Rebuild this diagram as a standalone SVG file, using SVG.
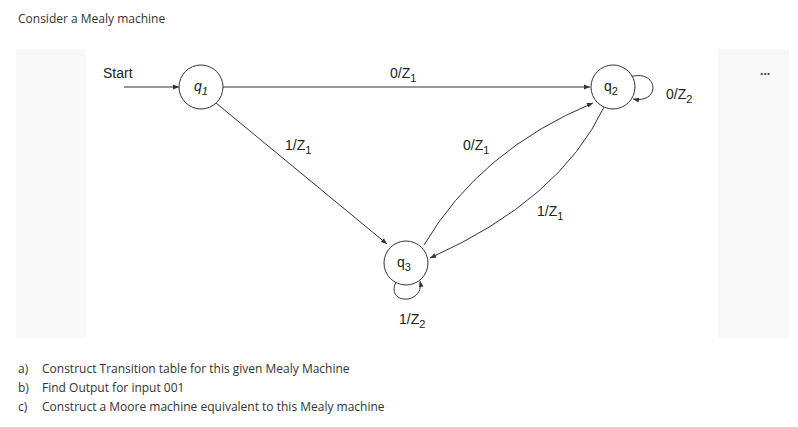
<svg xmlns="http://www.w3.org/2000/svg" width="798" height="427" viewBox="0 0 798 427">
<style>
.t{font-family:"Open Sans",sans-serif;font-size:12px;fill:#333}
.l{font-family:"Liberation Sans",Arial,sans-serif;font-size:14px;fill:#222}
.s{font-size:11px}
.n{fill:#fff;stroke:#333;stroke-width:1}
.e{fill:none;stroke:#333;stroke-width:1;marker-end:url(#a)}
</style>
<defs><marker id="a" viewBox="0 0 10 10" refX="10" refY="5" markerWidth="8" markerHeight="6" orient="auto"><path d="M0,1 L10,5 L0,9 z" fill="#333"/></marker></defs>
<rect width="798" height="427" fill="#fff"/>
<rect x="16" y="49" width="773" height="289" fill="#f8f8f8"/>
<rect x="86" y="49" width="632" height="289" fill="#fff"/>
<text class="t" x="18" y="23">Consider a Mealy machine</text>
<text class="t" x="760" y="75" font-weight="bold" fill="#777">...</text>
<g id="connectors">
<path class="e" d="M124,87 L179,87"/>
<path class="e" d="M223,87 L590,87"/>
<path class="e" d="M216,103 L387,244"/>
<path class="e" d="M424,245 Q480,150 593,103"/>
<path class="e" d="M604,107 Q560,200 430,258"/>
<path class="e" d="M630,77 C658,68 662,104 633,99"/>
<path class="e" d="M396,282 C385,305 425,305 420,281"/>
</g>
<g id="q1"><circle class="n" cx="201" cy="87" r="22"/><text class="l" x="194" y="91" font-style="italic">q<tspan class="s" dy="4">1</tspan></text></g>
<g id="q2"><circle class="n" cx="613" cy="87" r="22"/><text class="l" x="604" y="91">q<tspan class="s" dy="4">2</tspan></text></g>
<g id="q3"><circle class="n" cx="406" cy="263" r="22"/><text class="l" x="397" y="267">q<tspan class="s" dy="4">3</tspan></text></g>
<g id="labels">
<text class="l" x="103" y="78" font-size="13">Start</text>
<text class="l" x="390" y="78">0/Z<tspan class="s" dy="4">1</tspan></text>
<text class="l" x="666" y="99">0/Z<tspan class="s" dy="4">2</tspan></text>
<text class="l" x="285" y="150">1/Z<tspan class="s" dy="4">1</tspan></text>
<text class="l" x="463" y="150">0/Z<tspan class="s" dy="4">1</tspan></text>
<text class="l" x="537" y="216">1/Z<tspan class="s" dy="4">1</tspan></text>
<text class="l" x="399" y="324">1/Z<tspan class="s" dy="4">2</tspan></text>
</g>
<text class="t" x="18" y="373">a)</text><text class="t" x="42" y="373">Construct Transition table for this given Mealy Machine</text>
<text class="t" x="18" y="392">b)</text><text class="t" x="42" y="392">Find Output for input 001</text>
<text class="t" x="18" y="411">c)</text><text class="t" x="42" y="411">Construct a Moore machine equivalent to this Mealy machine</text>
</svg>
